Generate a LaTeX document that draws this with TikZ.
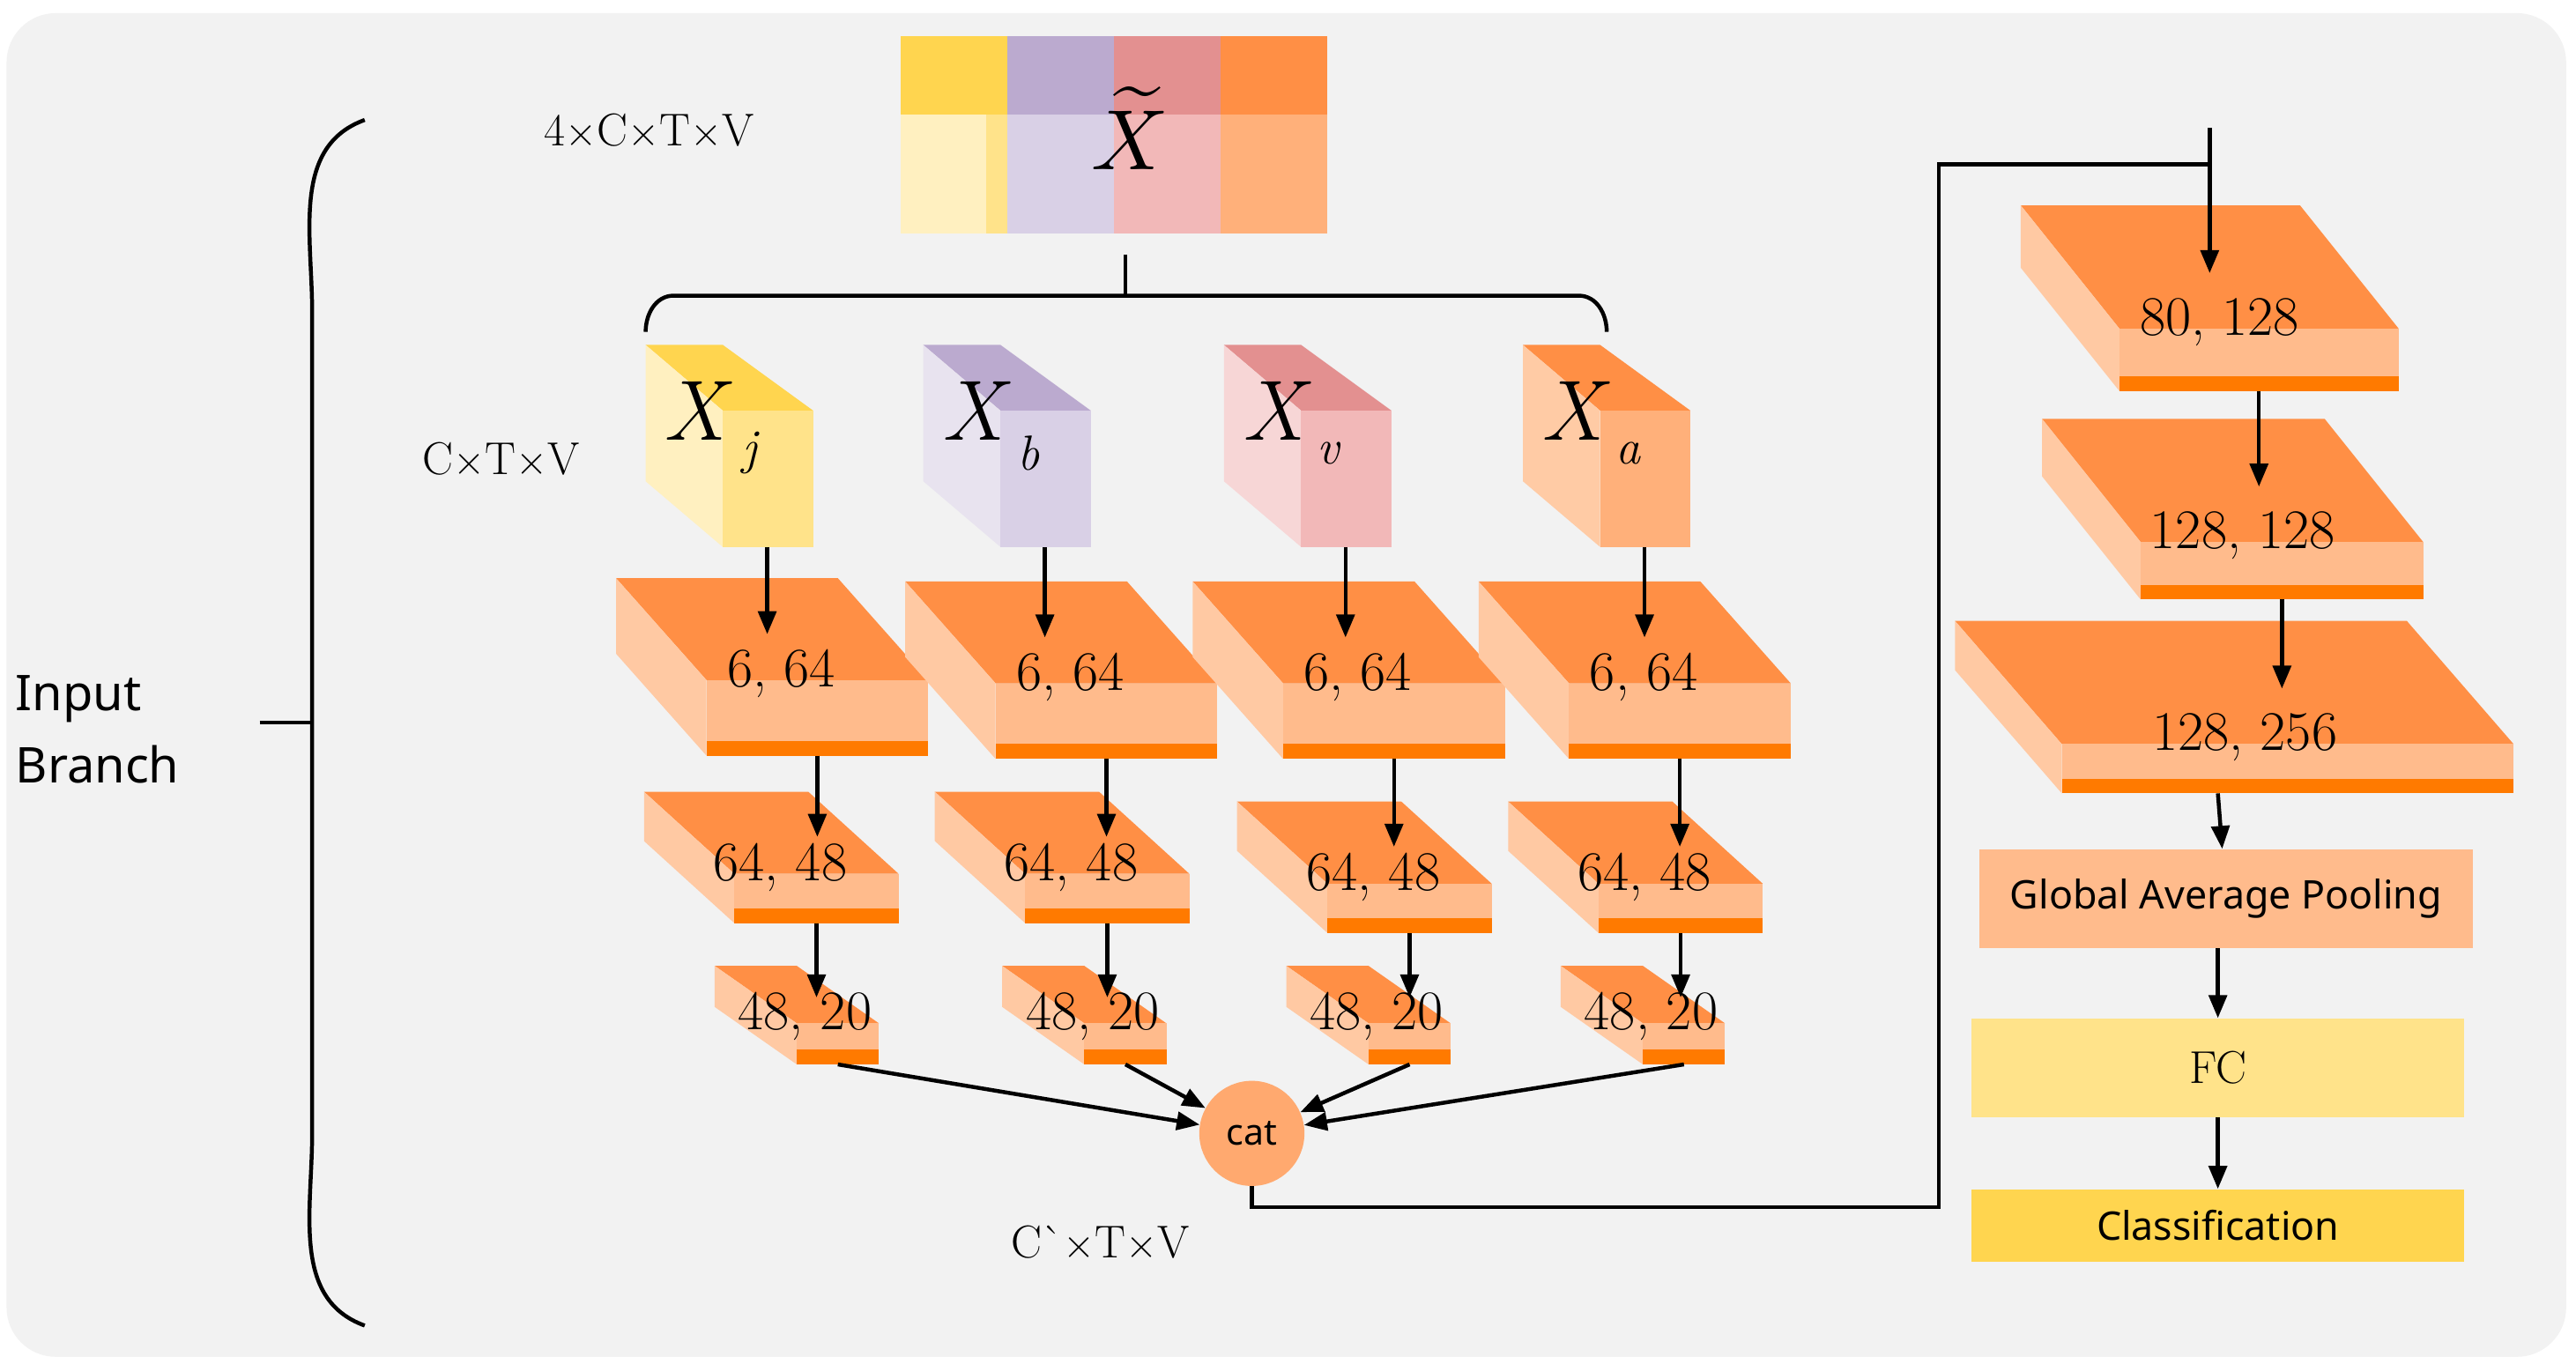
\documentclass[tikz,border=0pt]{standalone}
\usepackage{fontspec}
\newfontfamily\sansf{Noto Sans}
\usetikzlibrary{arrows.meta}
\definecolor{bg}{HTML}{F2F2F2}
\definecolor{stop}{HTML}{FF8F45}
\definecolor{sfront}{HTML}{FFBB8C}
\definecolor{sside}{HTML}{FFC9A3}
\definecolor{sdark}{HTML}{FF7A00}
\definecolor{yd}{HTML}{FFD54F}\definecolor{yf}{HTML}{FFE38A}\definecolor{yl}{HTML}{FFF0C0}
\definecolor{pd}{HTML}{BBAACF}\definecolor{pf}{HTML}{D9D0E6}\definecolor{pl}{HTML}{E8E3EF}
\definecolor{rd}{HTML}{E39090}\definecolor{rf}{HTML}{F2B8B8}\definecolor{rl}{HTML}{F7D6D6}
\definecolor{od}{HTML}{FF8F45}\definecolor{of}{HTML}{FFB07A}\definecolor{ol}{HTML}{FFCBA5}
\tikzset{
 lab/.style={font=\fontsize{34}{36}\selectfont, inner sep=0pt},
 arr/.style={line width=2.4pt, -{Triangle[length=14pt,width=11pt]}},
 line/.style={line width=2.4pt},
 box/.style={minimum width=300pt, minimum height=60pt, inner sep=0pt},
}
\newcommand\myslab[8]{%
 \fill[stop] (#2,#3) -- ++(#4,0) -- ++(#5,#6) -- ++(-#4,0) -- cycle;
 \fill[sside] (#2,#3) -- ++(#5,#6) -- ++(0,#7) -- ++(-#5,-#6) -- cycle;
 \fill[sfront] (#2+#5,#3+#6) rectangle ++(#4,#7);
 \fill[sdark] (#2+#5,#3+#6+#7-9) rectangle ++(#4,9);
 \node[lab] (#1) at (#2+#5*0.6+#4/2,#3+#6-4) {#8};
 \coordinate (#1-t) at (#2+#4/2+#5*0.5,#3+#6*0.55);
 \coordinate (#1-b) at (#2+#4/2+#5,#3+#6+#7);
}
\newcommand\mycube[8]{% name,x,y,dark,front,side,main,sub
 \fill[#4] (#2,#3) -- ++(47,0) -- ++(55,40) -- ++(-55,0) -- cycle;
 \fill[#6] (#2,#3) -- ++(47,40) -- ++(0,83) -- ++(-47,-40) -- cycle;
 \fill[#5] (#2+47,#3+40) rectangle ++(55,83);
 \node[inner sep=0pt,font=\fontsize{52}{54}\selectfont] (#1) at (#2+32,#3+40) {\textit{#7}};
 \node[inner sep=0pt,font=\fontsize{30}{32}\selectfont] at (#2+64,#3+66) {\textit{#8}};
 \coordinate (#1-b) at (#2+74,#3+123);
}
\begin{document}
\begin{tikzpicture}[x=1pt,y=-1pt]
\useasboundingbox (0,0) rectangle (1568,830);
\fill[white] (0,0) rectangle (1568,830);
\fill[bg,rounded corners=30pt] (4,8) rectangle (1562,826);
% left brace
\draw[line] (222,73) to[out=200,in=90] (190,190) -- (190,690) to[out=-90,in=160] (222,807);
\draw[line] (158,440) -- (190,440);
\node[font=\sansf\fontsize{30}{44}\selectfont,align=left,anchor=west] (ib) at (6,444) {Input\\Branch};
\node[font=\fontsize{28}{30}\selectfont] (d1) at (395,80) {4$\times$C$\times$T$\times$V};
\node[font=\fontsize{28}{30}\selectfont] (d2) at (305,280) {C$\times$T$\times$V};
\node[font=\fontsize{28}{30}\selectfont] (d3) at (670,757) {C\textasciigrave$\times$T$\times$V};
% top tensor
\foreach \i/\d/\f in {0/yd/yf,1/pd/pf,2/rd/rf,3/od/of}{
 \fill[\d] (548+\i*65,22) rectangle ++(65,48);
 \fill[\f] (548+\i*65,70) rectangle ++(65,72);
}
\fill[yl] (548,70) rectangle ++(52,72);
\node[inner sep=0pt] (xt) at (688,78) {\scalebox{5.2}{$\widetilde{X}$}};
% top brace
\draw[line] (685,155) -- (685,180);
\draw[line] (393,202) to[out=90,in=180] (410,180) -- (961,180) to[out=0,in=90] (978,202);
% cubes
\mycube{xj}{393}{210}{yd}{yf}{yl}{X}{j}
\mycube{xb}{562}{210}{pd}{pf}{pl}{X}{b}
\mycube{xv}{745}{210}{rd}{rf}{rl}{X}{v}
\mycube{xa}{927}{210}{od}{of}{ol}{X}{a}
% slabs
\myslab{a1}{375}{352}{135}{55}{62}{46}{6, 64}
\myslab{b1}{551}{354}{135}{55}{62}{46}{6, 64}
\myslab{c1}{726}{354}{135}{55}{62}{46}{6, 64}
\myslab{d1s}{900}{354}{135}{55}{62}{46}{6, 64}
\myslab{a2}{392}{482}{100}{55}{50}{30}{64, 48}
\myslab{b2}{569}{482}{100}{55}{50}{30}{64, 48}
\myslab{c2}{753}{488}{100}{55}{50}{30}{64, 48}
\myslab{d2s}{918}{488}{100}{55}{50}{30}{64, 48}
\myslab{a3}{435}{588}{50}{50}{35}{25}{48, 20}
\myslab{b3}{610}{588}{50}{50}{35}{25}{48, 20}
\myslab{c3}{783}{588}{50}{50}{35}{25}{48, 20}
\myslab{d3s}{950}{588}{50}{50}{35}{25}{48, 20}
\foreach \c/\s/\p/\q in {xj/a1/a2/a3, xb/b1/b2/b3, xv/c1/c2/c3, xa/d1s/d2s/d3s}{
 \draw[arr] (\c-b) -- (\c-b |- \s-t);
 \draw[arr] (\s-b) -- (\s-b |- \p-t);
 \draw[arr] (\p-b) -- (\p-b |- \q-t);
}
\node[circle,fill=of!80!stop,minimum size=64pt,inner sep=0pt,font=\sansf\fontsize{22}{24}\selectfont] (cat) at (762,690) {cat};
\draw[arr] (a3-b) -- (cat);
\draw[arr] (b3-b) -- (cat);
\draw[arr] (c3-b) -- (cat);
\draw[arr] (d3s-b) -- (cat);
% right side
\myslab{r1}{1230}{125}{170}{60}{75}{38}{80, 128}
\myslab{r2}{1243}{255}{172}{60}{75}{35}{128, 128}
\myslab{r3}{1190}{378}{275}{65}{75}{30}{128, 256}
\coordinate (tp) at (1345,78);
\coordinate (c1) at (1180,735);
\coordinate (c2) at (1180,100);
\draw[line] (cat.south) |- (c1) -- (c2) -- (c2 -| tp);
\draw[arr] (tp) -- (tp |- r1-t);
\draw[arr] (r1-b) -- (r1-b |- r2-t);
\draw[arr] (r2-b) -- (r2-b |- r3-t);
\node[box,fill=sfront,font=\sansf\fontsize{24}{26}\selectfont] (gap) at (1355,547) {Global Average Pooling};
\node[box,fill=yf,font=\fontsize{28}{30}\selectfont] (fc) at (1350,650) {FC};
\node[box,fill=yd,minimum height=44pt,font=\sansf\fontsize{24}{26}\selectfont] (cls) at (1350,746) {Classification};
\draw[arr] (r3-b -| fc) -- (gap);
\draw[arr] (gap.south -| fc) -- (fc);
\draw[arr] (fc) -- (cls);
\end{tikzpicture}
\end{document}
